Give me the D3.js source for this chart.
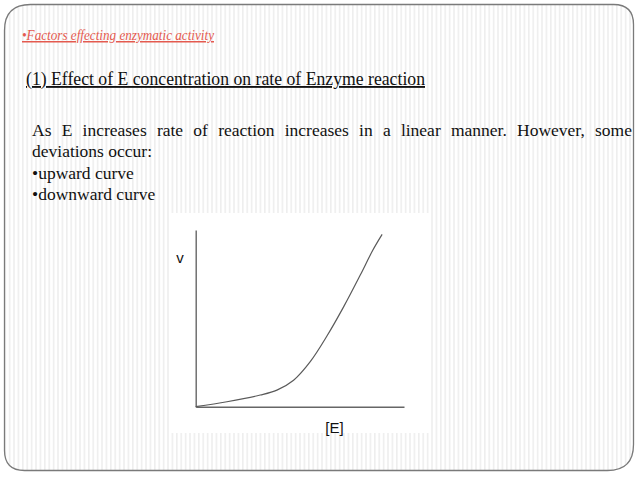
<!DOCTYPE html>
<html>
<head>
<meta charset="utf-8">
<script src="https://cdn.jsdelivr.net/npm/d3@7"></script>
<style>
  body { margin: 0; background: #fff; }
  svg { display: block; }
  .serif { font-family: "Liberation Serif", "Times New Roman", Times, serif; }
  .sans { font-family: "Liberation Sans", Arial, Helvetica, sans-serif; }
</style>
</head>
<body>
<script>
const width = 638;
const height = 478;

// slide text
const heading = "\u2022Factors effecting enzymatic activity";
const title = "(1) Effect of E concentration on rate of Enzyme reaction";
const paraLines = [
  "As E increases rate of reaction increases in a linear manner. However, some",
  "deviations occur:",
  "\u2022upward curve",
  "\u2022downward curve"
];

// curve (arbitrary units, 0..10)
const enzymeConc = [0, 1.5, 3.1, 3.9, 4.7, 5.5, 6.3, 7.1, 7.9, 8.5, 8.95];
const velocity   = [0, 0.28, 0.66, 0.94, 1.5, 2.55, 4.0, 5.65, 7.45, 8.85, 9.75];
const xLabel = "[E]";
const yLabel = "v";

const svg = d3.select("body").append("svg")
    .attr("width", width)
    .attr("height", height);

// striped slide background
const defs = svg.append("defs");
const pat = defs.append("pattern")
    .attr("id", "stripes")
    .attr("patternUnits", "userSpaceOnUse")
    .attr("width", 4.4)
    .attr("height", 10);
pat.append("rect").attr("width", 4.4).attr("height", 10).attr("fill", "#fff");
pat.append("rect").attr("x", 0).attr("width", 1.6).attr("height", 10).attr("fill", "#eeeeee");

svg.append("path")
    .attr("d", slideFrame(4.5, 4.5, 633.5, 470.5, 26, 20))
    .attr("fill", "url(#stripes)")
    .attr("stroke", "#7a7a7a")
    .attr("stroke-width", 1.3);

function slideFrame(x0, y0, x1, y1, rBig, rSmall) {
  // top-left and bottom-right are rounder than the other corners
  return "M" + (x0 + rBig) + "," + y0 +
    "H" + (x1 - rSmall) +
    "Q" + x1 + "," + y0 + " " + x1 + "," + (y0 + rSmall) +
    "V" + (y1 - rBig) +
    "Q" + x1 + "," + y1 + " " + (x1 - rBig) + "," + y1 +
    "H" + (x0 + rSmall) +
    "Q" + x0 + "," + y1 + " " + x0 + "," + (y1 - rSmall) +
    "V" + (y0 + rBig) +
    "Q" + x0 + "," + y0 + " " + (x0 + rBig) + "," + y0 + "Z";
}

// heading
svg.append("text")
    .attr("class", "serif")
    .attr("x", 22)
    .attr("y", 40)
    .attr("font-style", "italic")
    .attr("font-size", 15)
    .attr("fill", "#e45a4f")
    .attr("text-decoration", "underline")
    .attr("textLength", 192)
    .attr("lengthAdjust", "spacingAndGlyphs")
    .text(heading);

svg.append("text")
    .attr("class", "serif")
    .attr("x", 26)
    .attr("y", 85)
    .attr("font-size", 18.5)
    .attr("fill", "#111")
    .attr("text-decoration", "underline")
    .attr("textLength", 399)
    .attr("lengthAdjust", "spacingAndGlyphs")
    .text(title);

// paragraph, first line justified word by word
const paraX = 32, paraRight = 632, paraY = 136, lineGap = 21.3;
const paraFont = 17.5;
paraLines.forEach(function(line, i) {
  const y = paraY + i * lineGap;
  if (i === 0) {
    const words = line.split(" ");
    const g = svg.append("g");
    const nodes = words.map(function(w) {
      return g.append("text")
          .attr("class", "serif")
          .attr("y", y)
          .attr("font-size", paraFont)
          .attr("fill", "#111")
          .text(w);
    });
    const widths = nodes.map(function(n) { return n.node().getComputedTextLength(); });
    const gap = (paraRight - paraX - d3.sum(widths)) / (words.length - 1);
    let cx = paraX;
    nodes.forEach(function(n, j) {
      n.attr("x", cx);
      cx += widths[j] + gap;
    });
  } else {
    svg.append("text")
        .attr("class", "serif")
        .attr("x", paraX)
        .attr("y", y)
        .attr("font-size", paraFont)
        .attr("fill", "#111")
        .text(line);
  }
});

// chart picture
svg.append("rect")
    .attr("x", 170)
    .attr("y", 213)
    .attr("width", 261)
    .attr("height", 220)
    .attr("fill", "#fff");

const plot = { left: 195.7, right: 404, top: 230, bottom: 406.7 };

const xScale = d3.scaleLinear()
    .domain([0, 10])
    .range([plot.left, plot.right]);

const yScale = d3.scaleLinear()
    .domain([0, 10])
    .range([plot.bottom, plot.top]);

const xAxis = d3.axisBottom(xScale).tickValues([]).tickSizeOuter(0);
const yAxis = d3.axisLeft(yScale).tickValues([]).tickSizeOuter(0);

svg.append("g")
    .attr("transform", "translate(0," + plot.bottom + ")")
    .call(xAxis)
    .select(".domain")
    .attr("stroke", "#666")
    .attr("stroke-width", 1.4);

svg.append("g")
    .attr("transform", "translate(" + plot.left + ",0)")
    .call(yAxis)
    .select(".domain")
    .attr("stroke", "#666")
    .attr("stroke-width", 1.4);

const points = enzymeConc.map(function(d, i) { return [d, velocity[i]]; });

svg.append("path")
    .datum(points)
    .attr("fill", "none")
    .attr("stroke", "#5a5a5a")
    .attr("stroke-width", 1.2)
    .attr("d", d3.line()
        .x(function(d) { return xScale(d[0]); })
        .y(function(d) { return yScale(d[1]); })
        .curve(d3.curveCatmullRom.alpha(0.5)));

svg.append("text")
    .attr("class", "sans")
    .attr("x", 180)
    .attr("y", 263)
    .attr("text-anchor", "middle")
    .attr("font-size", 15)
    .attr("fill", "#111")
    .text(yLabel);

svg.append("text")
    .attr("class", "sans")
    .attr("x", 334.5)
    .attr("y", 433)
    .attr("text-anchor", "middle")
    .attr("font-size", 15)
    .attr("fill", "#111")
    .text(xLabel);
</script>
</body>
</html>
